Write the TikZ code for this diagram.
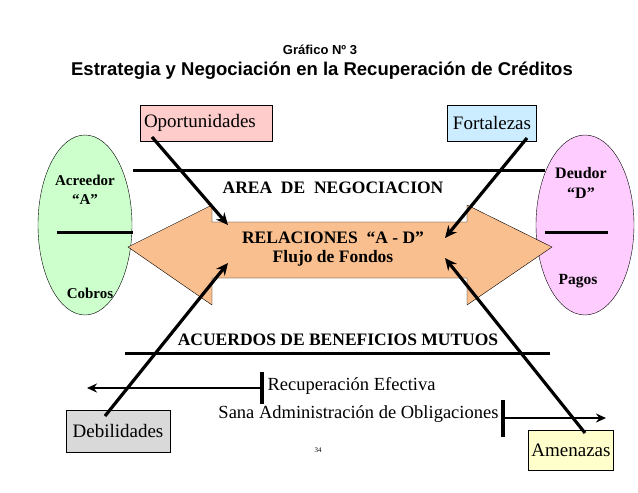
\documentclass[tikz,border=0pt]{standalone}
\usepackage{fontspec}
\usetikzlibrary{shapes.geometric,arrows.meta}
\setmainfont{Liberation Serif}
\newfontfamily\titlefont{Liberation Sans}
\definecolor{pinkbox}{RGB}{255,204,204}
\definecolor{bluebox}{RGB}{204,236,255}
\definecolor{graybox}{RGB}{217,217,217}
\definecolor{yelbox}{RGB}{255,255,204}
\definecolor{orangearrow}{RGB}{250,191,143}
\definecolor{greenell}{RGB}{204,255,204}
\definecolor{pinkell}{RGB}{255,204,255}
\begin{document}
\begin{tikzpicture}[x=1pt,y=-1pt,
  lbl/.style={draw, inner sep=3pt, font=\fontsize{19}{22}\selectfont},
  bl/.style={font=\bfseries\fontsize{17.5}{20}\selectfont},
  thk/.style={line width=3pt},
  arr/.style={line width=3.2pt,-{Stealth[length=12pt,width=11pt]}}]
\useasboundingbox (0,0) rectangle (638,493);
\node[font=\titlefont\bfseries\fontsize{13}{15}\selectfont] (g) at (320,50) {Gráfico Nº 3};
\node[font=\titlefont\bfseries\fontsize{18.5}{21}\selectfont] (t) at (322,71) {Estrategia y Negociación en la Recuperación de Créditos};
% ellipses
\node[draw, ellipse, fill=greenell, minimum width=94pt, minimum height=180pt] (ea) at (85,225) {};
\node[draw, ellipse, fill=pinkell, minimum width=98pt, minimum height=180pt] (ed) at (585,225) {};
\node[align=center, font=\bfseries\fontsize{15}{19}\selectfont] (acr) at (85,190) {Acreedor\\“A”};
\node[font=\bfseries\fontsize{15}{18}\selectfont] (cob) at (90,293) {Cobros};
\node[align=center, font=\bfseries\fontsize{16}{20}\selectfont] (deu) at (581,183) {Deudor\\“D”};
\node[font=\bfseries\fontsize{15.5}{18}\selectfont] (pag) at (578,281) {Pagos};
\draw[thk] (57,232) -- (133,232);
\draw[thk] (545,232) -- (608,232);
% top line
\draw[thk] (133,170) -- (545,170);
% double arrow
\draw[fill=orangearrow] (128,247) -- (212,205) -- (212,222) -- (467,222) -- (467,205) -- (552,247) -- (467,305) -- (467,278) -- (212,278) -- (212,305) -- cycle;
\node[bl] (area) at (333,188) {AREA\ \ DE\ \ NEGOCIACION};
\node[bl] (rel) at (333,238) {RELACIONES\ \ “A - D”};
\node[bl] (flu) at (333,258) {Flujo de Fondos};
% boxes
\node[lbl, fill=pinkbox, minimum width=132pt, minimum height=36pt, text width=124pt, align=left] (op) at (206,123) {Oportunidades};
\node[lbl, fill=bluebox, minimum width=89pt, minimum height=36pt] (fo) at (492,123) {Fortalezas};
\node[lbl, fill=graybox, minimum width=104pt, minimum height=42pt] (de) at (118,431) {Debilidades};
\node[lbl, fill=yelbox, minimum width=82pt, minimum height=40pt] (am) at (571,450) {Amenazas};
% target coordinates
\coordinate (c1) at (228,225);
\coordinate (c2) at (445,238);
\coordinate (c3) at (228,263);
\coordinate (c4) at (445,258);
\coordinate (s1) at (152,137);
\coordinate (s2) at (527,138);
\coordinate (s3) at (105,416);
\coordinate (s4) at (585,433);
\draw[arr] (s1) -- (c1);
\draw[arr] (s2) -- (c2);
\draw[arr] (s3) -- (c3);
\draw[arr] (s4) -- (c4);
% acuerdos
\node[bl] (acu) at (338,340) {ACUERDOS DE BENEFICIOS MUTUOS};
\draw[thk] (125,353) -- (550,353);
% recuperacion
\coordinate (r0) at (262,388); \coordinate (r1) at (87,388);
\draw[line width=3.5pt] (262,372) -- (262,404);
\draw[line width=2.2pt,-{Stealth[length=10pt,width=9pt]}] (r0) -- (r1);
\node[font=\fontsize{18.5}{21}\selectfont, anchor=west] (rec) at (264,386) {Recuperación Efectiva};
% sana
\coordinate (q0) at (503,418); \coordinate (q1) at (606,418);
\draw[line width=3.5pt] (503,400) -- (503,437);
\draw[line width=2.2pt,-{Stealth[length=10pt,width=9pt]}] (q0) -- (q1);
\node[font=\fontsize{18.5}{21}\selectfont, anchor=east] (sana) at (502,414) {Sana Administración de Obligaciones};
\node[font=\fontsize{7}{8}\selectfont] (pg) at (318,450) {34};
\end{tikzpicture}
\end{document}
